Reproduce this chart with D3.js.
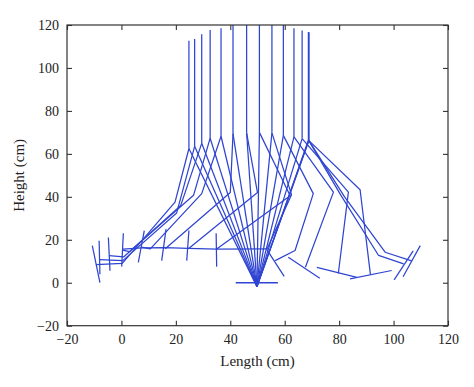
<!DOCTYPE html>
<html><head><meta charset="utf-8">
<script src="https://cdn.jsdelivr.net/npm/d3@7"></script>
<style>html,body{margin:0;padding:0;background:#fff;}svg{display:block;}</style>
</head><body>
<script>
// ---- data (cm) ----
const xTicks = [-20, 0, 20, 40, 60, 80, 100, 120];
const yTicks = [-20, 0, 20, 40, 60, 80, 100, 120];
// hip of each frame and top of trunk
const hipX = [24.8, 26.9, 29.5, 32.6, 36.6, 41.0, 46.0, 50.7, 55.3, 59.5, 63.4, 66.4, 68.7, 68.8, 68.9];
const hipY = [62.5, 63.5, 64.9, 67.3, 68.2, 69.3, 69.8, 70.0, 69.8, 68.6, 67.9, 67.1, 66.4, 66.3, 66.2];
const topY = [112.7, 113.5, 115.7, 117.7, 118.5, 120, 120, 120, 120, 120, 118.5, 117.4, 116.7, 116.6, 116.5];
// stance ankle and stance foot
const stanceAnkle = [49.8, -1.8];
const stanceFoot = [[42, 0], [57.5, 0]];
// swing leg: knee, then ankle/foot points
const kneeX = [19.7, 20.3, 21.8, 26.5, 29.5, 40.0, 50.0, 62.0, 62.5, 70.5, 77.9, 83.4, 87.7, 80.5, 82.0];
const kneeY = [37.5, 32.5, 36.0, 40.7, 41.5, 42.0, 42.0, 40.5, 41.0, 41.5, 42.2, 42.2, 43.3, 41.0, 40.0];
const lowerLeg = [
  [[0.3, 9.0], [-9.3, 8.4]],
  [[0.5, 10.3], [-8.0, 10.8]],
  [[0.8, 12.0], [-4.5, 12.6]],
  [[3.0, 14.5], [0.4, 15.2]],
  [[10.6, 15.8], [7.3, 16.6]],
  [[16.1, 15.8]],
  [[24.6, 15.8]],
  [[35.0, 15.7]],
  [[53.4, 15.5], [59.8, 3.0]],
  [[63.8, 15.0], [56.5, 10.3]],
  [[67.6, 7.2]],
  [[79.7, 4.3]],
  [[91.5, 3.8]],
  [[94.5, 12.7], [103.7, 8.8]],
  [[96.9, 14.2], [106.6, 10.2]]
];
// swing feet (short bars)
const feet = [
  [[-10.7, 17.3], [-7.9, 0.1]],
  [[-8.2, 19.6], [-7.9, 4.0]],
  [[-4.8, 21.1], [-4.2, 5.6]],
  [[0.7, 23.0], [0.1, 7.5]],
  [[8.4, 24.3], [6.2, 9.5]],
  [[16.4, 25.0], [14.8, 10.3]],
  [[24.8, 24.3], [24.0, 10.3]],
  [[34.8, 23.0], [35.0, 7.5]],
  null,
  null,
  [[61.3, 11.9], [72.9, 2.1]],
  [[71.8, 7.2], [86.5, 2.5]],
  [[84.0, 1.8], [99.3, 5.7]],
  [[100.2, 1.3], [107.2, 14.8]],
  [[103.5, 2.8], [109.8, 17.3]]
];
const soleLine = [[0.6, 15.6], [7.5, 16.2], [16.0, 16.3], [24.6, 16.0], [35.0, 15.6], [53.4, 15.8]];

// ---- layout ----
const W = 474, H = 387;
const L = 67, R = 448, T = 25, B = 325.7;
const x = d3.scaleLinear().domain([-20, 120]).range([L, R]);
const y = d3.scaleLinear().domain([-20, 120]).range([B, T]);
const blue = "#2f45d2";

const svg = d3.select("body").append("svg").attr("width", W).attr("height", H);
svg.append("defs").append("clipPath").attr("id", "clip")
  .append("rect").attr("x", L).attr("y", T).attr("width", R - L).attr("height", B - T);

const g = svg.append("g").attr("clip-path", "url(#clip)");
const line = d3.line().x(d => x(d[0])).y(d => y(d[1]));
const draw = (pts, w) => g.append("path").attr("d", line(pts)).attr("fill", "none")
  .attr("stroke", blue).attr("stroke-width", w || 1.25).attr("stroke-linejoin", "round");

hipX.forEach((hx, i) => {
  const hip = [hx, hipY[i]];
  draw([[hx, topY[i]], hip]);                 // trunk
  draw([stanceAnkle, hip]);                   // stance leg
  draw([hip, [kneeX[i], kneeY[i]]].concat(lowerLeg[i])); // swing leg
  if (feet[i]) draw(feet[i]);
});
draw(stanceFoot, 1.4);
draw(soleLine);

// ---- axes (box with inward ticks) ----
const axisColor = "#333";
const font = "Liberation Serif, Times New Roman, serif";
svg.append("rect").attr("x", L).attr("y", T).attr("width", R - L).attr("height", B - T)
  .attr("fill", "none").attr("stroke", axisColor).attr("stroke-width", 1.2);

const axB = d3.axisBottom(x).tickValues(xTicks).tickSizeInner(-5).tickSizeOuter(0).tickPadding(8)
  .tickFormat(d => d < 0 ? "\u2212" + Math.abs(d) : d);
const axT = d3.axisTop(x).tickValues(xTicks).tickSizeInner(-5).tickSizeOuter(0).tickFormat("");
const axL = d3.axisLeft(y).tickValues(yTicks).tickSizeInner(-5).tickSizeOuter(0).tickPadding(8)
  .tickFormat(d => d < 0 ? "\u2212" + Math.abs(d) : d);
const axR = d3.axisRight(y).tickValues(yTicks).tickSizeInner(-5).tickSizeOuter(0).tickFormat("");

function style(sel) {
  sel.select(".domain").remove();
  sel.selectAll("line").attr("stroke", axisColor).attr("stroke-width", 1.1);
  sel.selectAll("text").attr("fill", "#222").style("font-family", font).style("font-size", "14px");
}
svg.append("g").attr("transform", `translate(0,${B})`).call(axB).call(style);
svg.append("g").attr("transform", `translate(0,${T})`).call(axT).call(style);
svg.append("g").attr("transform", `translate(${L},0)`).call(axL).call(style);
svg.append("g").attr("transform", `translate(${R},0)`).call(axR).call(style);

svg.append("text").attr("x", (L + R) / 2).attr("y", 366).attr("text-anchor", "middle")
  .style("font-family", font).style("font-size", "15px").attr("fill", "#222").text("Length (cm)");
svg.append("text").attr("transform", `translate(24,${(T + B) / 2}) rotate(-90)`).attr("text-anchor", "middle")
  .style("font-family", font).style("font-size", "15px").attr("fill", "#222").text("Height (cm)");
</script>
</body></html>
